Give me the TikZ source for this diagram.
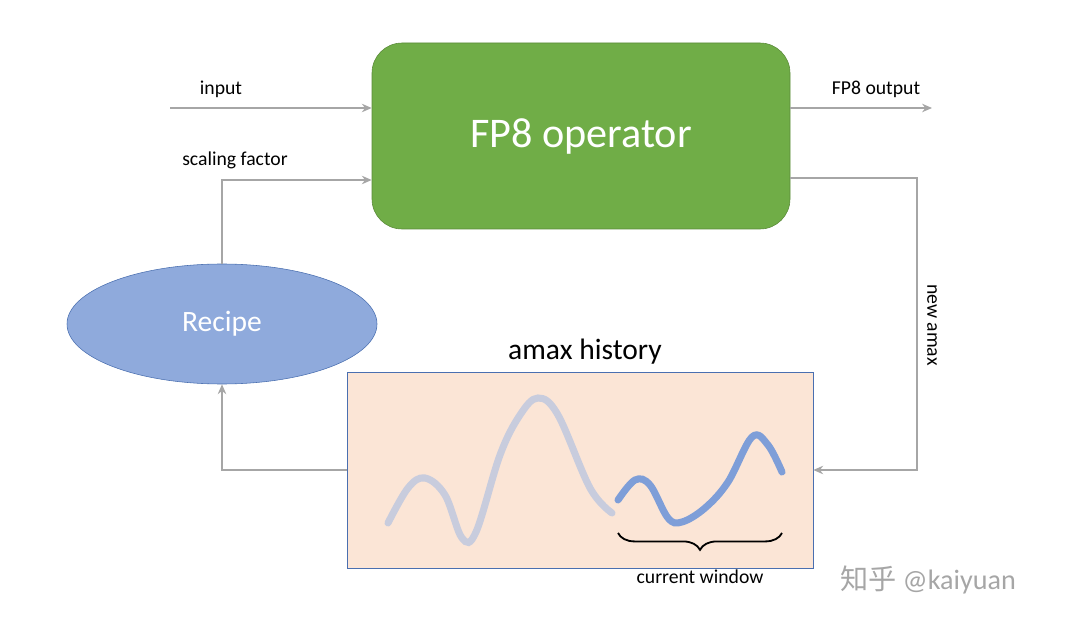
\documentclass[tikz,border=0pt]{standalone}
\usepackage{fontspec}
\setmainfont{Carlito}
\newfontfamily\cjk{Noto Sans CJK SC}
\usetikzlibrary{shapes.geometric,arrows.meta,decorations.pathreplacing}
\definecolor{opgreen}{HTML}{70AD47}
\definecolor{recblue}{HTML}{8FAADC}
\definecolor{recline}{HTML}{4A6FB0}
\definecolor{peach}{HTML}{FBE5D6}
\definecolor{conn}{HTML}{A6A6A6}
\definecolor{lightc}{HTML}{C8CCDD}
\definecolor{curb}{HTML}{7E9ED8}
\begin{document}
\begin{tikzpicture}[x=0.025cm,y=-0.025cm,
  lbl/.style={font=\fontsize{14}{16}\selectfont},
  arr/.style={draw=conn,line width=1.2pt,-{Stealth[length=7pt,width=6pt]}}]
\useasboundingbox (0,0) rectangle (1066,630);
\node[draw=opgreen!80!black,fill=opgreen,rounded corners=0.75cm,minimum width=418*0.025cm,minimum height=186*0.025cm,text=white,font=\fontsize{30}{34}\selectfont] (op) at (581,136) {FP8 operator};
\node[ellipse,draw=recline,fill=recblue,minimum width=310*0.025cm,minimum height=120*0.025cm,text=white,font=\fontsize{21}{24}\selectfont] (rec) at (222,324) {Recipe};
\node[draw=recline,fill=peach,minimum width=466*0.025cm,minimum height=196*0.025cm] (hist) at (580,470) {};
\node[font=\fontsize{21}{24}\selectfont] (ht) at (585,352) {amax history};
\node[lbl] (in) at (221,89) {input};
\node[lbl] (sf) at (235,160) {scaling factor};
\node[lbl] (out) at (876,89) {FP8 output};
\node[lbl,rotate=-90] (na) at (932,325) {new amax};
\coordinate (inS) at (170,108);
\coordinate (outE) at (932,108);
\draw[arr] (inS) -- (inS -| op.west);
\draw[arr] (rec.north) |- (op.west |- 0,180);
\draw[arr] (op.east |- 0,108) -- (outE);
\draw[arr] (op.east |- 0,178) -- (917,178) -- (917,470) -- (hist.east);
\draw[arr] (hist.west) -- (222,470) -- (rec.south);
\draw[lightc,line width=5pt,line cap=round] plot[smooth,tension=0.6] coordinates {(388,523) (408,488) (425,478) (445,495) (462,538) (476,532) (500,455) (520,415) (538,398) (558,415) (590,488) (612,513)};
\draw[curb,line width=5pt,line cap=round] plot[smooth,tension=0.6] coordinates {(618,500) (635,480) (650,485) (668,518) (682,522) (705,508) (728,482) (752,437) (768,445) (782,472)};
\draw[line width=1.3pt,decorate,decoration={brace,amplitude=12pt,mirror}] (618,533) -- (782,533) node[midway,below=22pt,lbl] (cw) {current window};
\node[text=gray!70,font=\fontsize{20}{24}\selectfont] (wm) at (928,580) {{\cjk 知乎} @kaiyuan};
\end{tikzpicture}
\end{document}
